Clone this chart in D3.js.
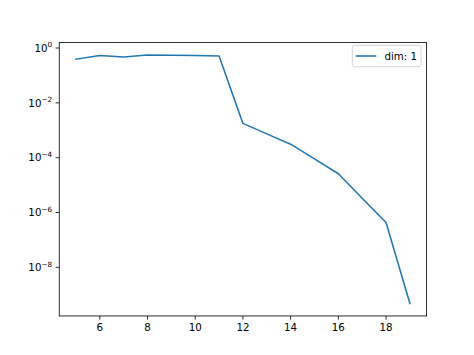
<!DOCTYPE html>
<html><head><meta charset="utf-8">
<script src="https://cdn.jsdelivr.net/npm/d3@7"></script>
<style>body{margin:0;background:#fff}svg{display:block}text{font-family:"DejaVu Sans",sans-serif}</style>
</head><body>
<script>
const xs = [5, 6, 7, 8, 9, 10, 11, 12, 13, 14, 15, 16, 17, 18, 19];
const values = [0.39, 0.53, 0.47, 0.555, 0.54, 0.53, 0.51, 1.78e-3, 7.4e-4, 3.1e-4, 9.1e-5, 2.6e-5, 3.3e-6, 4.3e-7, 4.8e-10];
const xTicks = [6, 8, 10, 12, 14, 16, 18];
const yTickExps = [0, -2, -4, -6, -8];
const seriesLabel = "dim: 1";

const W = 474, H = 355;
const L = 59.25, R = 426.6, T = 42.6, B = 315.95;
const fs = 10.28;
const svg = d3.select("body").append("svg").attr("width", W).attr("height", H);

const xmin = d3.min(xs), xmax = d3.max(xs), xm = (xmax - xmin) * 0.05;
const x = d3.scaleLinear().domain([xmin - xm, xmax + xm]).range([L, R]);
const lmin = Math.log10(d3.min(values)), lmax = Math.log10(d3.max(values)), lm = (lmax - lmin) * 0.05;
const y = d3.scaleLog().domain([Math.pow(10, lmin - lm), Math.pow(10, lmax + lm)]).range([B, T]);

const line = d3.line().x((d, i) => x(xs[i])).y(d => y(d));
svg.append("path").datum(values).attr("d", line).attr("fill", "none")
  .attr("stroke", "#1f77b4").attr("stroke-width", 1.54).attr("stroke-linejoin", "round").attr("stroke-linecap", "square");

svg.append("rect").attr("x", L).attr("y", T).attr("width", R - L).attr("height", B - T)
  .attr("fill", "none").attr("stroke", "#000").attr("stroke-width", 0.82);

const tl = 3.6, pad = 3.6;
const gx = svg.append("g");
xTicks.forEach(t => {
  const px = x(t);
  gx.append("line").attr("x1", px).attr("x2", px).attr("y1", B).attr("y2", B + tl).attr("stroke", "#000").attr("stroke-width", 0.82);
  gx.append("text").attr("x", px).attr("y", B + tl + pad).attr("dy", "0.76em").attr("text-anchor", "middle")
    .attr("font-size", fs).attr("fill", "#000").text(t);
});
const gy = svg.append("g");
yTickExps.forEach(e => {
  const py = y(Math.pow(10, e));
  gy.append("line").attr("x1", L - tl).attr("x2", L).attr("y1", py).attr("y2", py).attr("stroke", "#000").attr("stroke-width", 0.82);
  const txt = gy.append("text").attr("x", L - tl - pad).attr("y", py + 3.7).attr("text-anchor", "end")
    .attr("font-size", fs).attr("fill", "#000");
  txt.append("tspan").text("10");
  txt.append("tspan").attr("dy", -4.3).attr("font-size", fs * 0.7).text(e < 0 ? "\u2212" + (-e) : String(e));
});

const lg = svg.append("g");
lg.append("rect").attr("x", 352.3).attr("y", 45.3).attr("width", 68.7).attr("height", 21.4).attr("rx", 2).attr("ry", 2)
  .attr("fill", "#fff").attr("fill-opacity", 0.8).attr("stroke", "#cccccc").attr("stroke-width", 0.82);
lg.append("line").attr("x1", 355.7).attr("x2", 376.3).attr("y1", 56).attr("y2", 56)
  .attr("stroke", "#1f77b4").attr("stroke-width", 1.54);
lg.append("text").attr("x", 384.5).attr("y", 59.7).attr("font-size", fs).attr("fill", "#000").text(seriesLabel);
</script>
</body></html>
